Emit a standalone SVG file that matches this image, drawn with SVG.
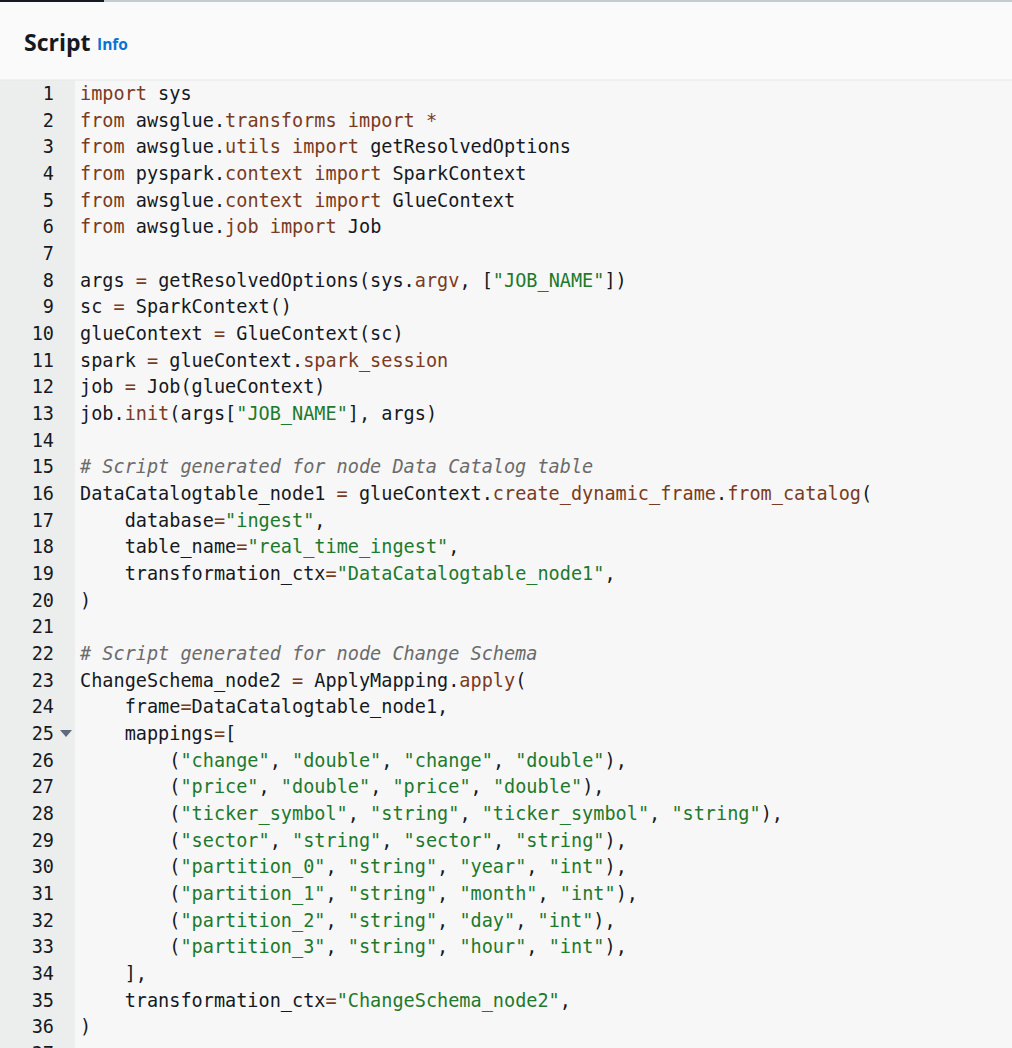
<svg xmlns="http://www.w3.org/2000/svg" width="1012" height="1048" viewBox="0 0 1012 1048">
<style>
.c{font-family:"DejaVu Sans Mono","Liberation Mono",monospace;font-size:18.55px;fill:#16191f;white-space:pre}
.n{font-family:"DejaVu Sans Mono","Liberation Mono",monospace;font-size:18.55px;fill:#16191f;text-anchor:end}
.k{fill:#7a3b22}.s{fill:#1d7a2c}.m{fill:#6b6b6b;font-style:italic}
</style>
<rect width="1012" height="1048" fill="#fafafa"/>
<rect x="0" y="80" width="1012" height="968" fill="#f7f7f7"/>
<rect x="0" y="80" width="75" height="968" fill="#eceeee"/>
<line x1="0" y1="80" x2="1012" y2="80" stroke="#e6e8e8"/>
<rect x="0" y="0" width="1012" height="2" fill="#c6cbcd"/>
<rect x="0" y="0" width="104" height="2" fill="#16191f"/>
<text x="24" y="51" font-family="'Open Sans','Liberation Sans',sans-serif" font-size="23" font-weight="bold" fill="#16191f">Script</text>
<text x="97" y="50" font-family="'Open Sans','Liberation Sans',sans-serif" font-size="15.5" font-weight="bold" fill="#0972d3">Info</text>
<g id="gutter">
<text class="n" x="54" y="100">1</text><text class="n" x="54" y="126.6">2</text><text class="n" x="54" y="153.3">3</text><text class="n" x="54" y="180">4</text><text class="n" x="54" y="206.6">5</text><text class="n" x="54" y="233.3">6</text><text class="n" x="54" y="260">7</text><text class="n" x="54" y="286.6">8</text><text class="n" x="54" y="313.3">9</text><text class="n" x="54" y="340">10</text><text class="n" x="54" y="366.6">11</text><text class="n" x="54" y="393.3">12</text><text class="n" x="54" y="420">13</text><text class="n" x="54" y="446.6">14</text><text class="n" x="54" y="473.3">15</text><text class="n" x="54" y="500">16</text><text class="n" x="54" y="526.6">17</text><text class="n" x="54" y="553.3">18</text><text class="n" x="54" y="580">19</text><text class="n" x="54" y="606.6">20</text><text class="n" x="54" y="633.3">21</text><text class="n" x="54" y="660">22</text><text class="n" x="54" y="686.6">23</text><text class="n" x="54" y="713.3">24</text><text class="n" x="54" y="740">25</text><text class="n" x="54" y="766.6">26</text><text class="n" x="54" y="793.3">27</text><text class="n" x="54" y="820">28</text><text class="n" x="54" y="846.6">29</text><text class="n" x="54" y="873.3">30</text><text class="n" x="54" y="900">31</text><text class="n" x="54" y="926.6">32</text><text class="n" x="54" y="953.3">33</text><text class="n" x="54" y="980">34</text><text class="n" x="54" y="1006.6">35</text><text class="n" x="54" y="1033.3">36</text><text class="n" x="54" y="1060">37</text>
<polygon points="60,730 72,730 66,737" fill="#5f6b7a"/>
</g>
<g id="code">
<text class="c" x="80" y="100"><tspan class="k">import</tspan> sys</text>
<text class="c" x="80" y="126.6"><tspan class="k">from</tspan> awsglue.<tspan class="k">transforms</tspan> <tspan class="k">import</tspan> <tspan class="k">*</tspan></text>
<text class="c" x="80" y="153.3"><tspan class="k">from</tspan> awsglue.<tspan class="k">utils</tspan> <tspan class="k">import</tspan> getResolvedOptions</text>
<text class="c" x="80" y="180"><tspan class="k">from</tspan> pyspark.<tspan class="k">context</tspan> <tspan class="k">import</tspan> SparkContext</text>
<text class="c" x="80" y="206.6"><tspan class="k">from</tspan> awsglue.<tspan class="k">context</tspan> <tspan class="k">import</tspan> GlueContext</text>
<text class="c" x="80" y="233.3"><tspan class="k">from</tspan> awsglue.<tspan class="k">job</tspan> <tspan class="k">import</tspan> Job</text>
<text class="c" x="80" y="286.6">args <tspan class="k">=</tspan> getResolvedOptions(sys.<tspan class="k">argv</tspan>, [<tspan class="s">"JOB_NAME"</tspan>])</text>
<text class="c" x="80" y="313.3">sc <tspan class="k">=</tspan> SparkContext()</text>
<text class="c" x="80" y="340">glueContext <tspan class="k">=</tspan> GlueContext(sc)</text>
<text class="c" x="80" y="366.6">spark <tspan class="k">=</tspan> glueContext.<tspan class="k">spark_session</tspan></text>
<text class="c" x="80" y="393.3">job <tspan class="k">=</tspan> Job(glueContext)</text>
<text class="c" x="80" y="420">job.<tspan class="k">init</tspan>(args[<tspan class="s">"JOB_NAME"</tspan>], args)</text>
<text class="c m" x="80" y="473.3"># Script generated for node Data Catalog table</text>
<text class="c" x="80" y="500">DataCatalogtable_node1 <tspan class="k">=</tspan> glueContext.<tspan class="k">create_dynamic_frame</tspan>.<tspan class="k">from_catalog</tspan>(</text>
<text class="c" x="80" y="526.6">    database<tspan class="k">=</tspan><tspan class="s">"ingest"</tspan>,</text>
<text class="c" x="80" y="553.3">    table_name<tspan class="k">=</tspan><tspan class="s">"real_time_ingest"</tspan>,</text>
<text class="c" x="80" y="580">    transformation_ctx<tspan class="k">=</tspan><tspan class="s">"DataCatalogtable_node1"</tspan>,</text>
<text class="c" x="80" y="606.6">)</text>
<text class="c m" x="80" y="660"># Script generated for node Change Schema</text>
<text class="c" x="80" y="686.6">ChangeSchema_node2 <tspan class="k">=</tspan> ApplyMapping.<tspan class="k">apply</tspan>(</text>
<text class="c" x="80" y="713.3">    frame<tspan class="k">=</tspan>DataCatalogtable_node1,</text>
<text class="c" x="80" y="740">    mappings<tspan class="k">=</tspan>[</text>
<text class="c" x="80" y="766.6">        (<tspan class="s">"change"</tspan>, <tspan class="s">"double"</tspan>, <tspan class="s">"change"</tspan>, <tspan class="s">"double"</tspan>),</text>
<text class="c" x="80" y="793.3">        (<tspan class="s">"price"</tspan>, <tspan class="s">"double"</tspan>, <tspan class="s">"price"</tspan>, <tspan class="s">"double"</tspan>),</text>
<text class="c" x="80" y="820">        (<tspan class="s">"ticker_symbol"</tspan>, <tspan class="s">"string"</tspan>, <tspan class="s">"ticker_symbol"</tspan>, <tspan class="s">"string"</tspan>),</text>
<text class="c" x="80" y="846.6">        (<tspan class="s">"sector"</tspan>, <tspan class="s">"string"</tspan>, <tspan class="s">"sector"</tspan>, <tspan class="s">"string"</tspan>),</text>
<text class="c" x="80" y="873.3">        (<tspan class="s">"partition_0"</tspan>, <tspan class="s">"string"</tspan>, <tspan class="s">"year"</tspan>, <tspan class="s">"int"</tspan>),</text>
<text class="c" x="80" y="900">        (<tspan class="s">"partition_1"</tspan>, <tspan class="s">"string"</tspan>, <tspan class="s">"month"</tspan>, <tspan class="s">"int"</tspan>),</text>
<text class="c" x="80" y="926.6">        (<tspan class="s">"partition_2"</tspan>, <tspan class="s">"string"</tspan>, <tspan class="s">"day"</tspan>, <tspan class="s">"int"</tspan>),</text>
<text class="c" x="80" y="953.3">        (<tspan class="s">"partition_3"</tspan>, <tspan class="s">"string"</tspan>, <tspan class="s">"hour"</tspan>, <tspan class="s">"int"</tspan>),</text>
<text class="c" x="80" y="980">    ],</text>
<text class="c" x="80" y="1006.6">    transformation_ctx<tspan class="k">=</tspan><tspan class="s">"ChangeSchema_node2"</tspan>,</text>
<text class="c" x="80" y="1033.3">)</text>
</g>
</svg>
